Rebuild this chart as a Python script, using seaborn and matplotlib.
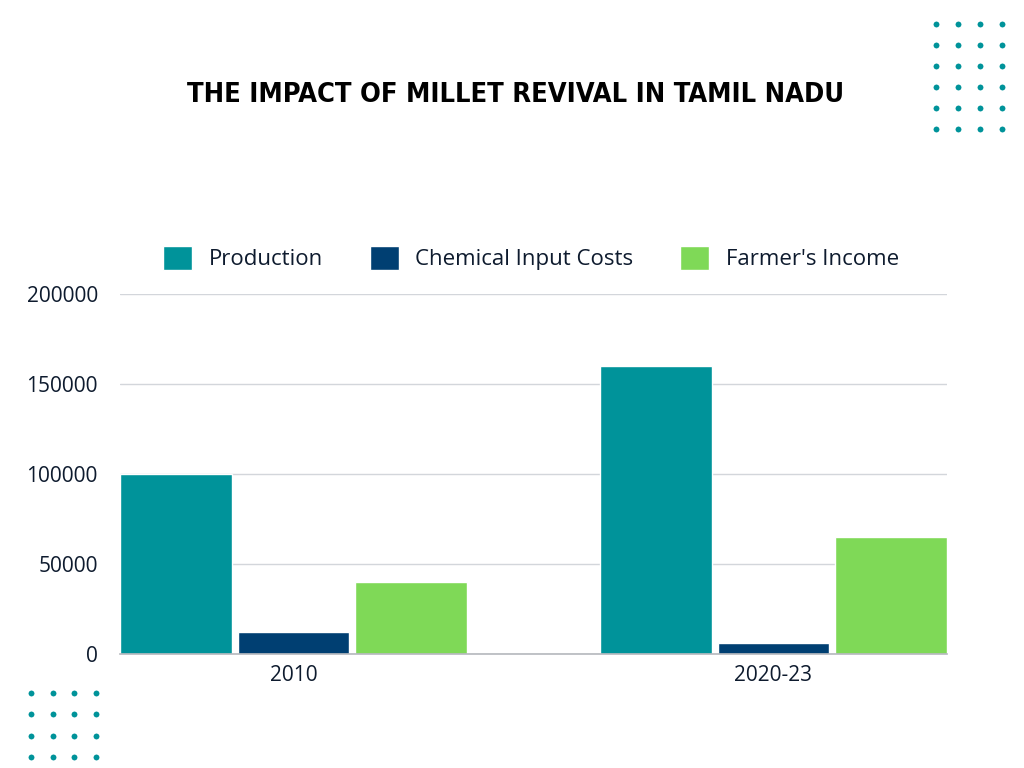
import numpy as np
import pandas as pd
import matplotlib
matplotlib.use("Agg")
import matplotlib.pyplot as plt
import seaborn as sns

# data
periods = ["2010", "2020-23"]
series = ["Production", "Chemical Input Costs", "Farmer's Income"]
production = [100000, 160000]
chemical_costs = [12000, 6000]
farmer_income = [40000, 65000]

palette = ["#00939A", "#003F72", "#7FD957"]
text_col = "#0E1B2E"

df = pd.DataFrame({
    "period": periods * 3,
    "series": [s for s in series for _ in periods],
    "value": production + chemical_costs + farmer_income,
})

sns.set_theme(style="white")
plt.rcParams["font.family"] = ["Open Sans", "DejaVu Sans"]

fig = plt.figure(figsize=(10.24, 7.68), dpi=100)
ax = fig.add_axes([120 / 1024, 1 - 654 / 768, (947 - 120) / 1024, (654 - 294) / 768])

sns.barplot(data=df, x="period", y="value", hue="series", palette=palette,
            width=0.735, gap=0.05, saturation=1, ax=ax, legend=True)

ax.set_xlim(-0.362, 1.362)
ax.set_ylim(0, 200000)
ax.set_yticks([0, 50000, 100000, 150000, 200000])
ax.set_yticklabels(["0", "50000", "100000", "150000", "200000"])
ax.yaxis.grid(True, color="#D3D6DB", linewidth=1)
ax.set_axisbelow(True)
for s in ["top", "right", "left"]:
    ax.spines[s].set_visible(False)
ax.spines["bottom"].set_color("#B5B8BD")
ax.spines["bottom"].set_linewidth(1.2)
ax.tick_params(axis="both", length=0, labelsize=15, colors=text_col)
ax.tick_params(axis="y", pad=16)
ax.tick_params(axis="x", pad=8)
ax.set_xlabel("")
ax.set_ylabel("")

handles, labels = ax.get_legend_handles_labels()
ax.legend(handles, labels, loc="center", bbox_to_anchor=(0.497, 1.1), ncol=3,
          frameon=False, fontsize=16, labelcolor=text_col, handlelength=1.3,
          handleheight=1.3, handletextpad=0.75, columnspacing=2.1)

fig.text(0.503, 1 - 95 / 768, "THE IMPACT OF MILLET REVIVAL IN TAMIL NADU",
         ha="center", va="center", fontsize=19.5, fontweight="heavy",
         fontstretch="condensed", family="DejaVu Sans", color="#000000")

# decorative dot grids
dot_col = "#00939A"
tx, ty = np.meshgrid(np.arange(4) * 22 + 936, np.arange(6) * 21 + 24)
fig.add_artist(plt.scatter(tx.ravel() / 1024, 1 - ty.ravel() / 768, s=9, color=dot_col,
                           transform=fig.transFigure, clip_on=False))
bx, by = np.meshgrid(np.arange(4) * 21.7 + 31, np.arange(4) * 21.3 + 693)
fig.add_artist(plt.scatter(bx.ravel() / 1024, 1 - by.ravel() / 768, s=9, color=dot_col,
                           transform=fig.transFigure, clip_on=False))

fig.savefig("out.png", dpi=100)
